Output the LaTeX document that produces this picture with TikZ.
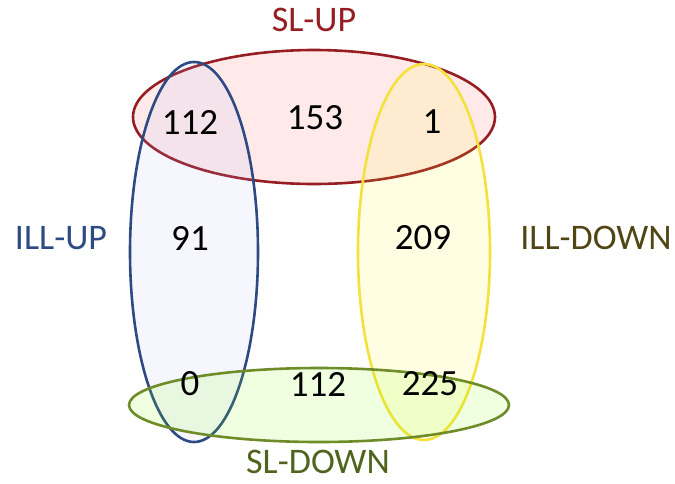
\documentclass[tikz,border=0pt]{standalone}
\usepackage{fontspec}
\setmainfont{Carlito}
\definecolor{cred}{RGB}{150,30,35}
\definecolor{cblue}{RGB}{45,75,130}
\definecolor{cyel}{RGB}{245,225,60}
\definecolor{cgreen}{RGB}{110,140,40}
\definecolor{tyel}{RGB}{80,70,20}
\definecolor{tgreen}{RGB}{80,100,30}
\tikzset{set/.style={line width=2.6pt, fill opacity=0.12, draw opacity=1},
 num/.style={font=\fontsize{37}{40}\selectfont, text=black},
 lab/.style={font=\fontsize{36}{38}\selectfont}}
\begin{document}
\begin{tikzpicture}[x=1pt,y=-1pt]
\useasboundingbox (0,0) rectangle (675,483);
\draw[set,cred,fill=red!70] (314,117) ellipse [x radius=181,y radius=67];
\draw[set,cblue,fill=blue!30] (194,252) ellipse [x radius=64,y radius=190];
\draw[set,cyel,fill=yellow!90] (424,252) ellipse [x radius=66,y radius=188];
\draw[set,cgreen,fill=green!50!yellow] (319,405) ellipse [x radius=190,y radius=37];
\node[lab,text=cred] (lup) at (314,20) {SL-UP};
\node[lab,text=cblue] (lill) at (61,238) {ILL-UP};
\node[lab,text=tyel] (ldn) at (596,238) {ILL-DOWN};
\node[lab,text=tgreen] (lsd) at (318,462) {SL-DOWN};
\node[num] (n1) at (190,122) {112};
\node[num] (n2) at (315,118) {153};
\node[num] (n3) at (432,122) {1};
\node[num] (n4) at (190,238) {91};
\node[num] (n5) at (423,238) {209};
\node[num] (n6) at (190,384) {0};
\node[num] (n7) at (318,384) {112};
\node[num] (n8) at (430,384) {225};
\end{tikzpicture}
\end{document}
